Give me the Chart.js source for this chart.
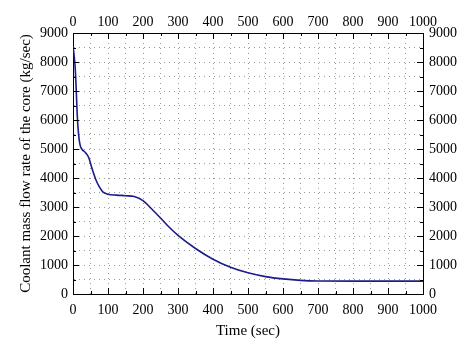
<!DOCTYPE html>
<html>
<head>
<meta charset="utf-8">
<script src="https://cdn.jsdelivr.net/npm/chart.js@4"></script>
<style>
  html, body { margin: 0; padding: 0; background: #fff; }
  #wrap { width: 474px; height: 354px; }
</style>
</head>
<body>
<div id="wrap"><canvas id="flowChart" width="474" height="354"></canvas></div>
<script>
// time (sec) and coolant mass flow rate (kg/sec)
const times = [0, 3, 6, 9, 12, 16, 20, 25, 35, 45, 55, 65, 75, 85, 100, 125, 150, 175, 200, 225, 250, 275, 300, 350, 400, 450, 500, 550, 600, 650, 700, 800, 900, 1000];
const flow = [8550, 8250, 7850, 7100, 6200, 5500, 5150, 5000, 4880, 4700, 4300, 3950, 3700, 3520, 3440, 3410, 3390, 3360, 3220, 2930, 2620, 2300, 2020, 1570, 1200, 920, 730, 600, 520, 470, 450, 445, 445, 445];
const xTicks = [0, 100, 200, 300, 400, 500, 600, 700, 800, 900, 1000];
const yTicks = [0, 1000, 2000, 3000, 4000, 5000, 6000, 7000, 8000, 9000];

const serif = "'Liberation Serif', 'DejaVu Serif', serif";
const tickFont = { family: serif, size: 14 };

// major labels only, minor steps keep the dotted grid
const onlyMajor = list => v => list.includes(v) ? String(v) : '';

// inward tick marks on all four sides
const insideTicks = {
    id: 'insideTicks',
    afterDraw(chart) {
        const { ctx, chartArea: a, scales } = chart;
        ctx.save();
        ctx.strokeStyle = '#000';
        ctx.lineWidth = 1;
        ctx.beginPath();
        for (let v = 0; v <= 1000; v += 50) {
            const px = Math.round(scales.x.getPixelForValue(v)) + 0.5;
            const len = xTicks.includes(v) ? 6 : 3;
            ctx.moveTo(px, a.bottom); ctx.lineTo(px, a.bottom - len);
            ctx.moveTo(px, a.top); ctx.lineTo(px, a.top + len);
        }
        for (let v = 0; v <= 9000; v += 500) {
            const py = Math.round(scales.y.getPixelForValue(v)) + 0.5;
            const len = yTicks.includes(v) ? 6 : 3;
            ctx.moveTo(a.left, py); ctx.lineTo(a.left + len, py);
            ctx.moveTo(a.right, py); ctx.lineTo(a.right - len, py);
        }
        ctx.stroke();
        ctx.restore();
    }
};

const dotted = { color: '#9a9a9a', lineWidth: 1, drawTicks: false };
const frame = { display: true, color: '#000', width: 1, dash: [1, 4] };
const plainFrame = { display: true, color: '#000', width: 1 };

new Chart(document.getElementById('flowChart'), {
    type: 'line',
    data: {
        datasets: [{
            data: times.map((t, i) => ({ x: t, y: flow[i] })),
            borderColor: '#1c1c8a',
            borderWidth: 1.6,
            pointRadius: 0,
            cubicInterpolationMode: 'monotone',
            fill: false
        }]
    },
    options: {
        responsive: false,
        animation: false,
        layout: { padding: { left: 17, bottom: 14, top: 0, right: 0 } },
        plugins: { legend: { display: false }, tooltip: { enabled: false } },
        scales: {
            x: {
                type: 'linear', position: 'bottom', min: 0, max: 1000,
                grid: dotted, border: frame,
                ticks: { stepSize: 50, autoSkip: false, maxRotation: 0, padding: 8, color: '#000', font: tickFont, callback: onlyMajor(xTicks) },
                title: { display: true, text: 'Time (sec)', color: '#000', font: { family: serif, size: 15 }, padding: 0 },
                afterFit: s => { s.height = 46; }
            },
            x2: {
                type: 'linear', position: 'top', min: 0, max: 1000,
                grid: { display: false, drawTicks: false }, border: plainFrame,
                ticks: { stepSize: 100, autoSkip: false, maxRotation: 0, padding: 2, color: '#000', font: tickFont, callback: v => String(v) },
                afterFit: s => { s.height = 33; }
            },
            y: {
                type: 'linear', position: 'left', min: 0, max: 9000,
                grid: dotted, border: frame,
                ticks: { stepSize: 500, autoSkip: false, padding: 5, color: '#000', font: tickFont, callback: onlyMajor(yTicks) },
                title: { display: true, text: 'Coolant mass flow rate of the core (kg/sec)', color: '#000', font: { family: serif, size: 15 }, padding: 0 },
                afterFit: s => { s.width = 56; }
            },
            y2: {
                type: 'linear', position: 'right', min: 0, max: 9000,
                grid: { display: false, drawTicks: false }, border: plainFrame,
                ticks: { stepSize: 1000, autoSkip: false, padding: 6, color: '#000', font: tickFont, callback: v => String(v) },
                afterFit: s => { s.width = 51; }
            }
        }
    },
    plugins: [insideTicks]
});
</script>
</body>
</html>
